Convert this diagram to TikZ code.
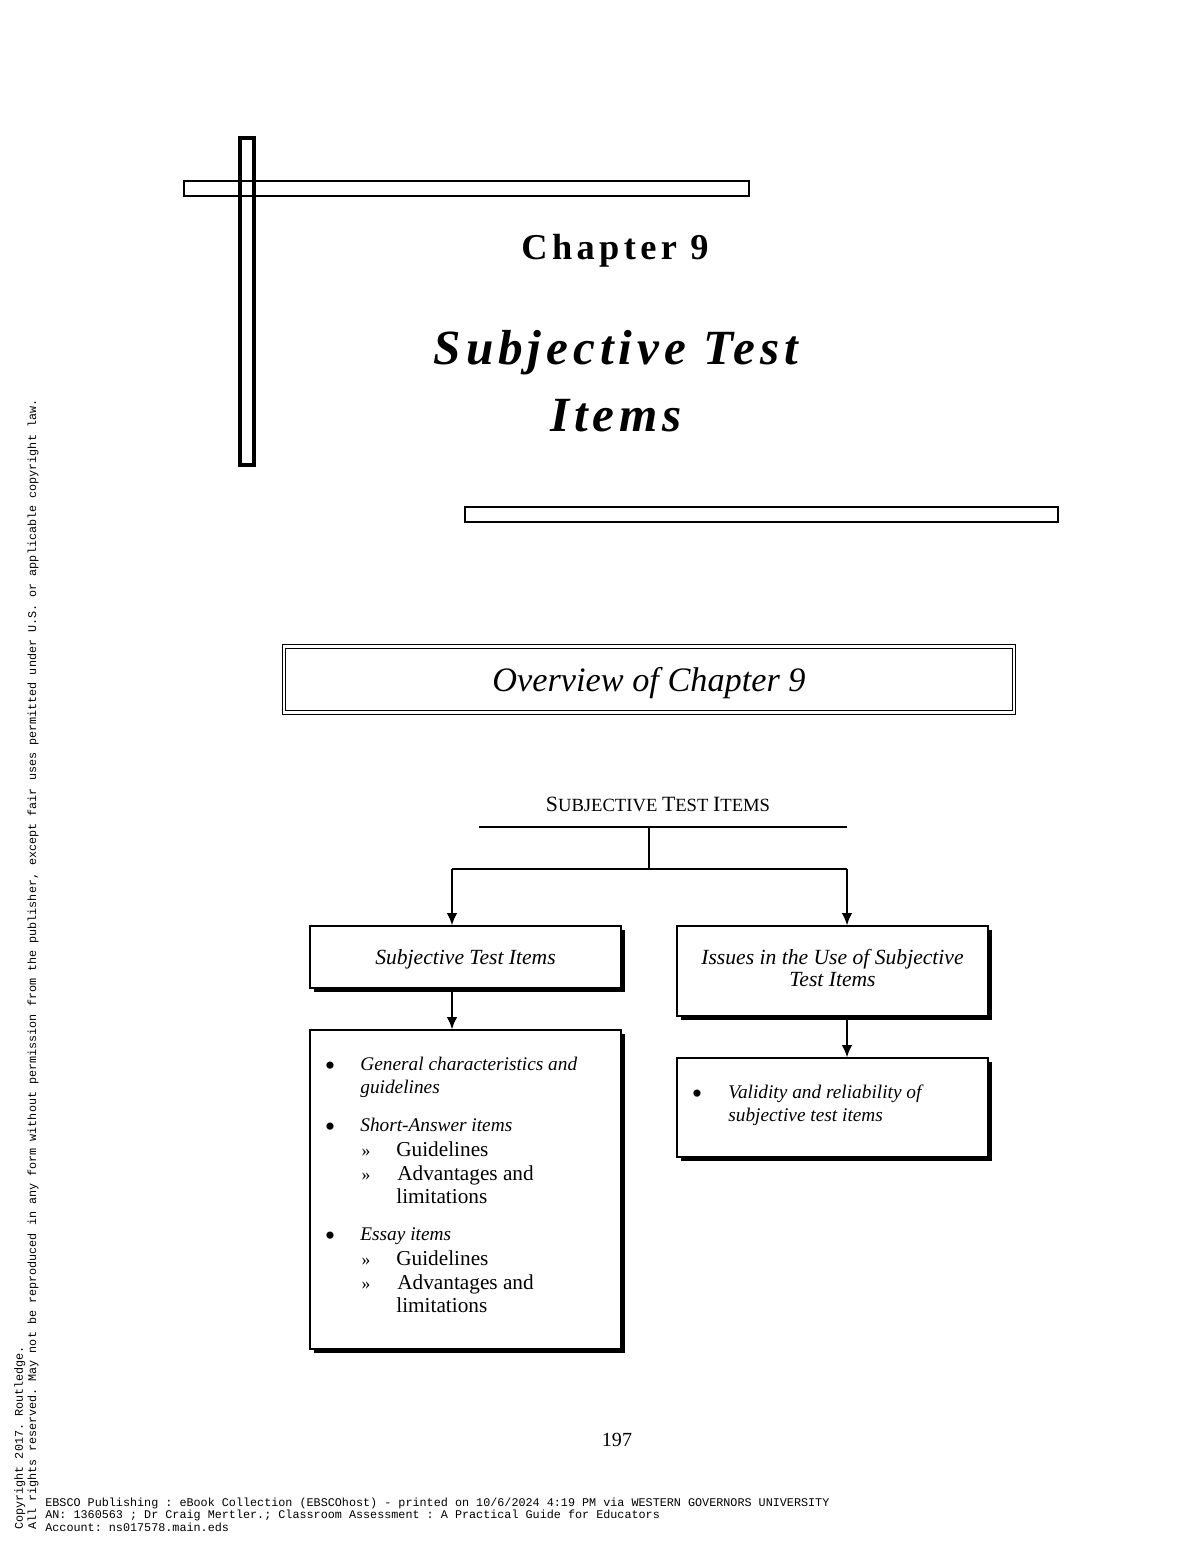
\documentclass[tikz,border=0pt]{standalone}
\usepackage{fontspec}
\setmainfont{Liberation Serif}
\setmonofont{Liberation Mono}
\usetikzlibrary{shadows,arrows.meta}

\tikzset{
	itembox/.style={draw, line width=0.7pt, fill=white, inner sep=0pt, align=center, font=\fontsize{12.3}{13}\selectfont\itshape, drop shadow={shadow xshift=0.08cm, shadow yshift=-0.08cm, fill=black, opacity=1}},
	bar/.style={draw, line width=0.7pt, inner sep=0pt},
	italine/.style={anchor=base west, inner sep=0pt, font=\fontsize{11}{13}\selectfont\itshape},
	romline/.style={anchor=base west, inner sep=0pt, font=\fontsize{12.1}{13}\selectfont},
	bulletmark/.style={anchor=base, inner sep=0pt, yshift=-0.1cm, font=\fontsize{17}{13}\selectfont},
	chevron/.style={anchor=base, inner sep=0pt, font=\fontsize{10}{13}\selectfont},
	smallprint/.style={anchor=base west, inner sep=0pt, font=\fontsize{6.7}{8}\ttfamily},
	link/.style={line width=1pt, -{Latex[length=7pt,width=6pt]}}
}

\begin{document}
\begin{tikzpicture}[x=0.02cm, y=-0.02cm]
	\useasboundingbox (0,0) rectangle (1200,1553);
	% frame bars
	\node[bar, minimum width=11.3cm, minimum height=0.3cm] (barh) at (466.5,188.5) {};
	\node[draw, line width=1.8pt, inner sep=0pt, minimum width=0.28cm, minimum height=6.54cm] (barv) at (247,301.5) {};
	\node[bar, minimum width=11.86cm, minimum height=0.3cm] (barb) at (761.5,514.5) {};
	\node[font=\fontsize{20.7}{24}\selectfont\bfseries] (chap) at (615,251) {\addfontfeature{LetterSpace=12}Chapter 9};
	\node[font=\fontsize{28}{38}\selectfont\bfseries\itshape, align=center] (title) at (616,381) {\addfontfeature{LetterSpace=10}Subjective Test\\\addfontfeature{LetterSpace=10}Items};
	% overview
	\node[draw, double, double distance=1.2pt, line width=0.6pt, inner sep=0pt, minimum width=14.6cm, minimum height=1.32cm] (over) at (649,679.5) {};
	\node[font=\fontsize{19.5}{22}\selectfont\itshape] (overtxt) at (649,683) {Overview of Chapter 9};
	% tree
	\node[font=\fontsize{12.4}{13}\selectfont] (head) at (658,804) {S\fontsize{10.6}{13}\selectfont UBJECTIVE \fontsize{12.4}{13}\selectfont T\fontsize{10.6}{13}\selectfont EST \fontsize{12.4}{13}\selectfont I\fontsize{10.6}{13}\selectfont TEMS};
	\coordinate (rulel) at (479,827);
	\coordinate (ruler) at (847,827);
	\coordinate (stem) at (649,827);
	\coordinate (busm) at (649,869);
	\coordinate (busl) at (452,869);
	\coordinate (busr) at (847,869);
	\node[itembox, minimum width=6.22cm, minimum height=1.24cm, text height=10.8pt] (subj) at (465.5,957) {Subjective Test Items};
	\node[itembox, minimum width=6.22cm, minimum height=1.8cm, text depth=3.6pt] (issue) at (832.5,971) {Issues in the Use of Subjective\\Test Items};
	\node[itembox, minimum width=6.22cm, minimum height=6.38cm] (list) at (465.5,1189.5) {};
	\node[itembox, minimum width=6.22cm, minimum height=1.98cm] (valid) at (832.5,1107.5) {};
	\draw[line width=0.7pt] (rulel) -- (ruler);
	\draw[line width=1pt] (stem) -- (busm);
	\draw[line width=1.2pt] (busl) -- (busr);
	\draw[link] (busl) -- (busl |- subj.north);
	\draw[link] (busr) -- (busr |- issue.north);
	\draw[link] (busl |- subj.south) -- (busl |- list.north);
	\draw[link] (busr |- issue.south) -- (busr |- valid.north);
	% left list
	\node[bulletmark] (dota) at (330,1070) {•};
	\node[italine] (gena) at (360,1070) {General characteristics and};
	\node[italine] (genb) at (360,1093) {guidelines};
	\node[bulletmark] (dotb) at (330,1131) {•};
	\node[italine] (shrt) at (360,1131) {Short-Answer items};
	\node[chevron] (mka) at (366,1156) {»};
	\node[romline] (guia) at (396,1156) {Guidelines};
	\node[chevron] (mkb) at (366,1180) {»};
	\node[romline] (adva) at (397,1180) {Advantages and};
	\node[romline] (lima) at (396,1203) {limitations};
	\node[bulletmark] (dotc) at (330,1240) {•};
	\node[italine] (essy) at (360,1240) {Essay items};
	\node[chevron] (mkc) at (366,1265) {»};
	\node[romline] (guib) at (396,1265) {Guidelines};
	\node[chevron] (mkd) at (366,1289) {»};
	\node[romline] (advb) at (397,1289) {Advantages and};
	\node[romline] (limb) at (396,1312) {limitations};
	% right list
	\node[bulletmark] (dotd) at (697,1098) {•};
	\node[italine] (vala) at (728,1098) {Validity and reliability of};
	\node[italine] (valb) at (728,1121) {subjective test items};
	% page foot
	\node[font=\fontsize{11.4}{13}\selectfont] (page) at (617,1440) {197};
	\node[smallprint] (foota) at (45,1506) {EBSCO Publishing : eBook Collection (EBSCOhost) - printed on 10/6/2024 4:19 PM via WESTERN GOVERNORS UNIVERSITY};
	\node[smallprint] (footb) at (45,1518) {AN: 1360563 ; Dr Craig Mertler.; Classroom Assessment : A Practical Guide for Educators};
	\node[smallprint] (footc) at (45,1531) {Account: ns017578.main.eds};
	\node[smallprint, rotate=90] (sidea) at (23,1530) {Copyright 2017. Routledge.};
	\node[smallprint, rotate=90] (sideb) at (36,1530) {All rights reserved. May not be reproduced in any form without permission from the publisher, except fair uses permitted under U.S. or applicable copyright law.};
\end{tikzpicture}
\end{document}
